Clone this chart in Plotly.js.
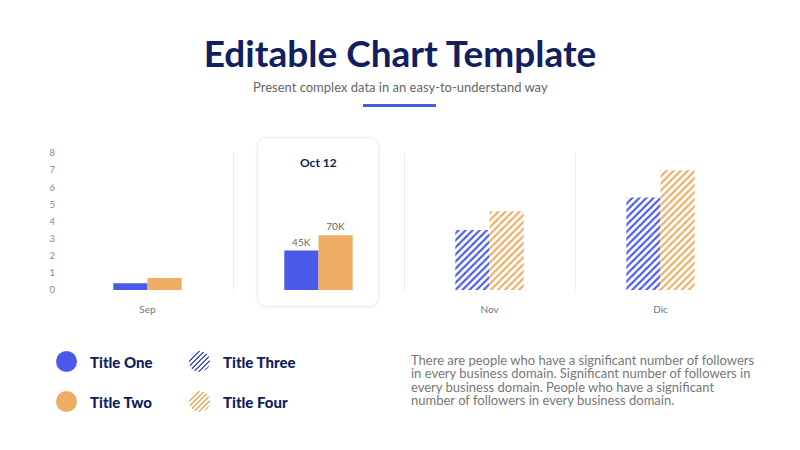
<!DOCTYPE html>
<html>
<head>
<meta charset="utf-8">
<script src="https://cdn.plot.ly/plotly-3.0.1.min.js"></script>
<style>
  html, body { margin:0; padding:0; background:#fff; }
  #wrap { position:relative; width:800px; height:450px; overflow:hidden; font-family:Lato, "Open Sans", sans-serif; }
  #card { position:absolute; left:257px; top:137px; width:120px; height:168px; border:1px solid #ececec; border-radius:10px; box-shadow:0 1px 4px rgba(0,0,0,0.06); background:#fff; }
  #chart { position:absolute; left:0; top:0; width:800px; height:450px; }
  #underline { position:absolute; left:363px; top:104px; width:73px; height:3px; background:#4a5ae8; }
  .lg { position:absolute; display:flex; align-items:center; }
  .dot { width:21px; height:21px; border-radius:50%; margin-right:13px; }
  .lg span { font-weight:900; font-size:15px; color:#10205e; }
  #para { position:absolute; left:411px; top:354px; width:347px; font-size:13px; line-height:13.4px; color:#777; }
</style>
</head>
<body>
<div id="wrap">
  <div id="card"></div>
  <div id="underline"></div>
  <div id="chart"></div>
  <div class="lg" style="left:56px; top:351px;"><div class="dot" style="background:#4a5ae8"></div><span>Title One</span></div>
  <div class="lg" style="left:56px; top:391px;"><div class="dot" style="background:#efad63"></div><span>Title Two</span></div>
  <div class="lg" style="left:189px; top:351px;"><div class="dot" style="background:repeating-linear-gradient(-45deg,#4a5ae8 0 1.6px,#fff 1.6px 3.6px)"></div><span>Title Three</span></div>
  <div class="lg" style="left:189px; top:391px;"><div class="dot" style="background:repeating-linear-gradient(-45deg,#efad63 0 1.6px,#fff 1.6px 3.6px)"></div><span>Title Four</span></div>
  <div id="para">There are people who have a significant number of followers in every business domain. Significant number of followers in every business domain. People who have a significant number of followers in every business domain.</div>
</div>
<script>
const categories = ["Sep", "Oct", "Nov", "Dic"];
const tickLabels = ["Sep", "", "Nov", "Dic"];
const seriesBlue = [0.4, 2.3, 3.5, 5.4];
const seriesOrange = [0.7, 3.2, 4.6, 7.0];
const labelsBlue = ["", "45K", "", ""];
const labelsOrange = ["", "70K", "", ""];
const patternShapes = ["", "", "/", "/"];
const yTicks = [0, 1, 2, 3, 4, 5, 6, 7, 8];

const BLUE = "#4a5ae8", ORANGE = "#efad63", NAVY = "#10205e";
const FONT = "Lato, 'Open Sans', sans-serif";

function barTrace(name, vals, labels, color) {
  return {
    type: "bar", name: name, x: categories, y: vals,
    text: labels, textposition: "outside", cliponaxis: false,
    textfont: {family: FONT, size: 10, color: "#666"},
    marker: {
      color: color, line: {width: 0},
      pattern: {shape: patternShapes, fgcolor: color, bgcolor: "#ffffff", size: 5, solidity: 0.42, fillmode: "replace"}
    },
    hoverinfo: "none"
  };
}

const data = [
  barTrace("Title One / Three", seriesBlue, labelsBlue, BLUE),
  barTrace("Title Two / Four", seriesOrange, labelsOrange, ORANGE)
];

const layout = {
  width: 800, height: 450, autosize: false,
  margin: {l: 62, r: 54, t: 153, b: 160},
  paper_bgcolor: "rgba(0,0,0,0)", plot_bgcolor: "rgba(0,0,0,0)",
  showlegend: false,
  barmode: "group", bargap: 0.6, bargroupgap: 0,
  font: {family: FONT, color: "#888"},
  title: {
    text: "<b>Editable Chart Template</b>",
    font: {family: FONT, size: 37, color: NAVY},
    xref: "container", yref: "container", x: 0.5, xanchor: "center", y: 1 - 54/450, yanchor: "middle"
  },
  xaxis: {
    type: "category", categoryorder: "array", categoryarray: categories,
    tickvals: categories, ticktext: tickLabels,
    tickson: "boundaries", showgrid: true, gridcolor: "#ececec", gridwidth: 1,
    ticks: "", ticklabelstandoff: 12, zeroline: false, showline: false,
    tickfont: {family: FONT, size: 10, color: "#777"},
    range: [-0.5, 3.5], fixedrange: true
  },
  yaxis: {
    range: [0, 8], tickvals: yTicks, showgrid: false, zeroline: false, showline: false,
    tickfont: {family: FONT, size: 9.5, color: "#888"}, ticklabelstandoff: 6, fixedrange: true
  },
  annotations: [
    {text: "Present complex data in an easy-to-understand way", xref: "paper", yref: "paper",
     x: (400-62)/684, y: (290-87)/137, xanchor: "center", yanchor: "middle", showarrow: false,
     font: {family: FONT, size: 13, color: "#666"}},
    {text: "<b>Oct 12</b>", xref: "x", yref: "paper", x: "Oct", y: (290-162)/137,
     xanchor: "center", yanchor: "middle", showarrow: false,
     font: {family: FONT, size: 12, color: NAVY}}
  ]
};

Plotly.newPlot("chart", data, layout, {displayModeBar: false, staticPlot: true});
</script>
</body>
</html>
